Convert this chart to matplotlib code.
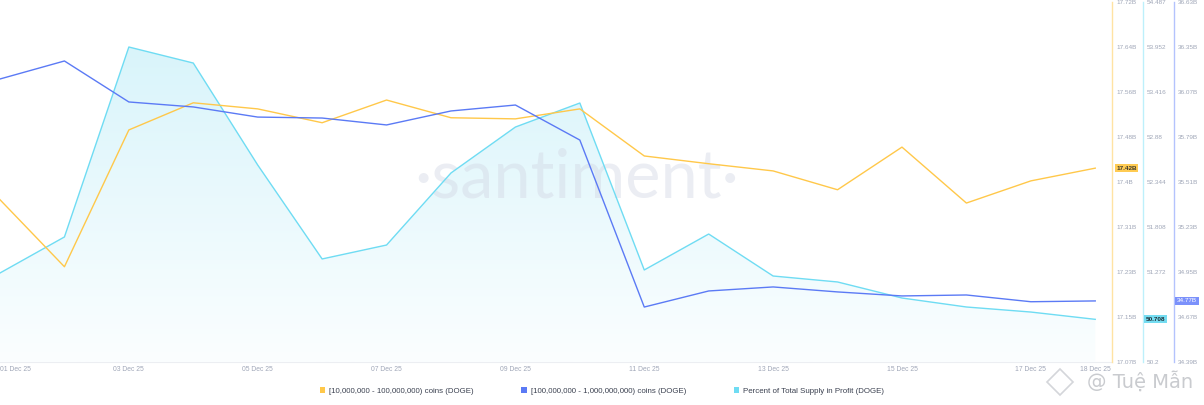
import numpy as np
import matplotlib
matplotlib.use('Agg')
import matplotlib.pyplot as plt
from matplotlib.colors import LinearSegmentedColormap
from matplotlib.patches import Patch

## Data
dates = ['01 Dec 25', '02 Dec 25', '03 Dec 25', '04 Dec 25', '05 Dec 25', '06 Dec 25',
         '07 Dec 25', '08 Dec 25', '09 Dec 25', '10 Dec 25', '11 Dec 25', '12 Dec 25',
         '13 Dec 25', '14 Dec 25', '15 Dec 25', '16 Dec 25', '17 Dec 25', '18 Dec 25']
shown_dates = ['01 Dec 25', '03 Dec 25', '05 Dec 25', '07 Dec 25', '09 Dec 25',
               '11 Dec 25', '13 Dec 25', '15 Dec 25', '17 Dec 25', '18 Dec 25']

# [10M - 100M) coins, billions
mid_holders = [17.363, 17.242, 17.489, 17.538, 17.527, 17.502, 17.543, 17.511, 17.509,
               17.527, 17.442, 17.428, 17.415, 17.381, 17.458, 17.357, 17.397, 17.42]
# [100M - 1B) coins, billions
whale_holders = [36.151, 36.263, 36.008, 35.977, 35.914, 35.908, 35.865, 35.952, 35.989,
                 35.771, 34.732, 34.832, 34.857, 34.826, 34.801, 34.807, 34.765, 34.77]
# percent of supply in profit
pct_profit = [51.26, 51.689, 53.951, 53.76, 52.546, 51.427, 51.593, 52.451, 52.998,
              53.284, 51.296, 51.724, 51.224, 51.153, 50.962, 50.855, 50.795, 50.708]

yellow_ticks = ['17.07B', '17.15B', '17.23B', '17.31B', '17.4B', '17.48B', '17.56B', '17.64B', '17.72B']
cyan_ticks = ['50.2', '50.736', '51.272', '51.808', '52.344', '52.88', '53.416', '53.952', '54.487']
blue_ticks = ['34.39B', '34.67B', '34.95B', '35.23B', '35.51B', '35.79B', '36.07B', '36.35B', '36.63B']

yellow_lim = (17.07, 17.72)
cyan_lim = (50.2, 54.487)
blue_lim = (34.39, 36.63)

c_yel = '#ffc84a'
c_blu = '#5b7af5'
c_cya = '#6fdcf3'
tick_col = '#a0a7b8'
font = 'Liberation Sans'

W, H = 1204, 405
fig = plt.figure(figsize=(W / 100, H / 100), dpi=100)
ax = fig.add_axes([0, (H - 362) / H, 1112 / W, 360 / H])   # cyan (base, for fill)
ax_y = ax.twinx()
ax_b = ax.twinx()

x = np.arange(len(dates))
xlim = (0, 17.26)

## cyan series with gradient fill
poly = ax.fill_between(x, pct_profit, cyan_lim[0], color='none', lw=0)
cmap = LinearSegmentedColormap.from_list('g', ['#fbfeff', '#d4f3fa'])
grad = np.linspace(1, 0, 256).reshape(-1, 1)
im = ax.imshow(grad, extent=[0, 17, cyan_lim[0], cyan_lim[1]], aspect='auto',
               cmap=cmap, origin='upper', zorder=0)
im.set_clip_path(poly.get_paths()[0], transform=ax.transData)
ax.plot(x, pct_profit, color=c_cya, lw=1.0, zorder=2)
ax.set_xlim(*xlim)
ax.set_ylim(*cyan_lim)

# watermark sits over the fill, under the lines
ax.text(577 / 1112, 1 - 176 / 360, '\u00b7santiment\u00b7', transform=ax.transAxes,
        ha='center', va='center', fontsize=48, family='Lato', fontweight='normal',
        color='#d3d8e5', alpha=0.45, zorder=1)

ax_y.plot(x, mid_holders, color=c_yel, lw=1.0)
ax_y.set_ylim(*yellow_lim)
ax_b.plot(x, whale_holders, color=c_blu, lw=1.0)
ax_b.set_ylim(*blue_lim)

## axes styling
for a in (ax, ax_y, ax_b):
    a.set_xlim(*xlim)
    for s in ('top', 'left', 'bottom'):
        a.spines[s].set_visible(False)
    a.tick_params(axis='y', length=0, pad=3, labelsize=4.6, labelcolor=tick_col,
                  left=False, labelleft=False, right=True, labelright=True)

ax.spines['bottom'].set_visible(True)
ax.spines['bottom'].set_color('#eceef2')
ax.spines['bottom'].set_linewidth(0.8)

ax_y.spines['right'].set_position(('axes', 1.0))
ax.spines['right'].set_position(('axes', 1143 / 1112))
ax_b.spines['right'].set_position(('axes', 1174 / 1112))
ax_y.spines['right'].set_color('#ffe3a3')
ax.spines['right'].set_color('#bdf0fb')
ax_b.spines['right'].set_color('#b4c3fd')
for a in (ax, ax_y, ax_b):
    a.spines['right'].set_linewidth(1.0)

ax_y.set_yticks(np.linspace(*yellow_lim, 9), yellow_ticks, family=font)
ax.set_yticks(np.linspace(*cyan_lim, 9), cyan_ticks, family=font)
ax_b.set_yticks(np.linspace(*blue_lim, 9), blue_ticks, family=font)

tick_idx = [dates.index(d) for d in shown_dates]
ax.set_xticks(tick_idx, shown_dates, family=font)
ax.tick_params(axis='x', length=0, pad=3, labelsize=4.9, labelcolor=tick_col)
ax.get_xticklabels()[0].set_ha('left')
ax_y.tick_params(axis='x', bottom=False, labelbottom=False)
ax_b.tick_params(axis='x', bottom=False, labelbottom=False)

## last-value badges
ax_y.annotate('17.42B', xy=(1.0, mid_holders[-1]), xycoords=('axes fraction', 'data'),
              xytext=(3, 0), textcoords='offset points', ha='left', va='center',
              fontsize=4.6, family=font, color='#3d3a2e', fontweight='bold',
              bbox=dict(boxstyle='square,pad=0.25', fc='#ffcb52', ec='none'),
              annotation_clip=False)
ax.annotate('50.708', xy=(1143 / 1112, pct_profit[-1]), xycoords=('axes fraction', 'data'),
            xytext=(2, 0), textcoords='offset points', ha='left', va='center',
            fontsize=4.6, family=font, color='#1f2d33', fontweight='bold',
            bbox=dict(boxstyle='square,pad=0.25', fc='#74dcf1', ec='none'),
            annotation_clip=False)
ax_b.annotate('34.77B', xy=(1174 / 1112, whale_holders[-1]), xycoords=('axes fraction', 'data'),
              xytext=(2, 0), textcoords='offset points', ha='left', va='center',
              fontsize=4.6, family=font, color='white',
              bbox=dict(boxstyle='square,pad=0.25', fc='#7b91fb', ec='none'),
              annotation_clip=False)

## author mark, bottom right
fig.text(1140 / W, 1 - 382 / H, '@ Tu\u1ec7 M\u1eabn', ha='center', va='center',
         fontsize=14, family='DejaVu Sans', color='#c9cbcf')
fig.lines.append(plt.Line2D([1060 / W], [1 - 382 / H], transform=fig.transFigure,
                            marker='D', ms=13, mfc='none', mec='#d4d6da', mew=1.2))

## legend
handles = [Patch(fc=c_yel, ec='none'), Patch(fc=c_blu, ec='none'), Patch(fc=c_cya, ec='none')]
labels = ['[10,000,000 - 100,000,000) coins (DOGE)',
          '[100,000,000 - 1,000,000,000) coins (DOGE)',
          'Percent of Total Supply in Profit (DOGE)']
fig.legend(handles, labels, loc='center', bbox_to_anchor=(602 / W, 1 - 391 / H), ncol=3,
           frameon=False, prop={'family': font, 'size': 5.7}, labelcolor='#3b4150',
           handlelength=0.7, handleheight=0.7, handletextpad=0.5, columnspacing=6.0)

fig.savefig('out.png', dpi=100)
